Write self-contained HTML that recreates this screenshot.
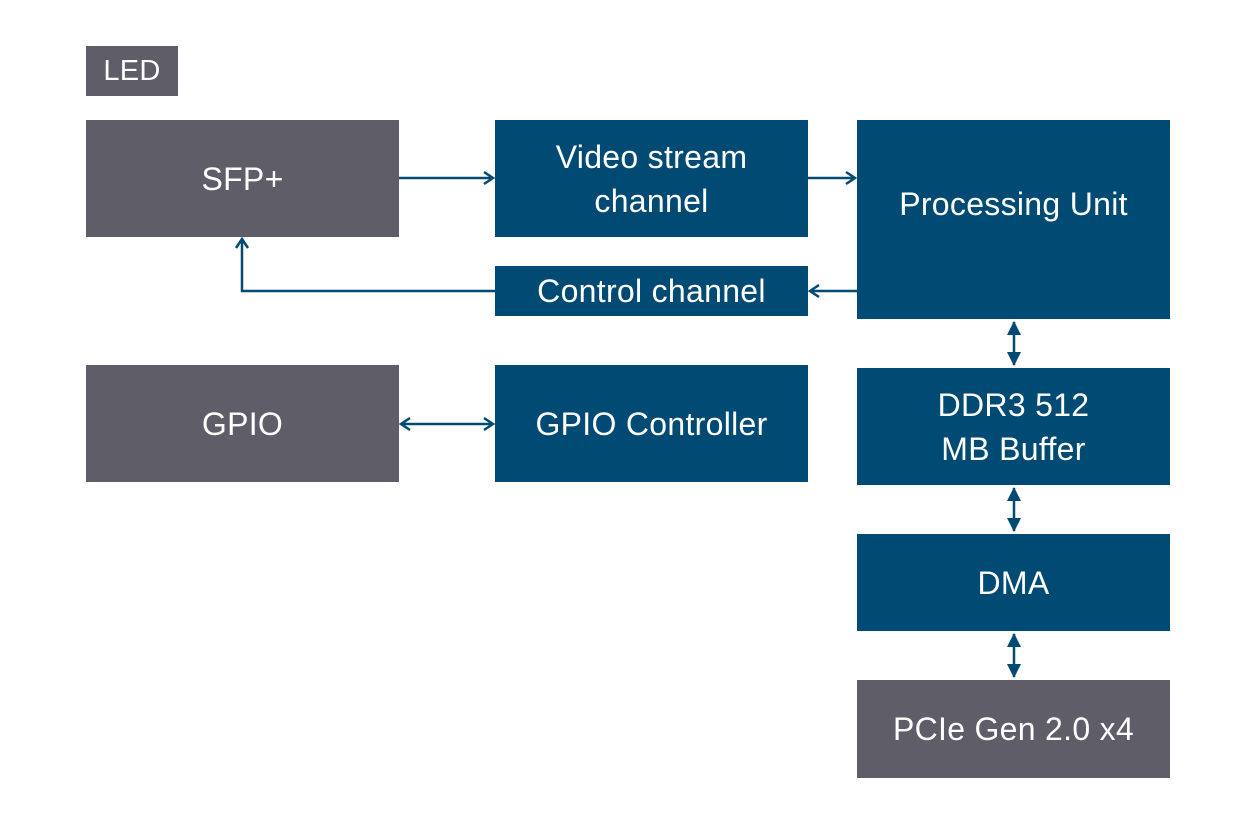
<!DOCTYPE html>
<html><head><meta charset="utf-8"><style>
body{margin:0;width:1250px;height:835px;background:#fff;position:relative;overflow:hidden;font-family:"Liberation Sans",sans-serif}
.b{position:absolute;display:flex;align-items:center;justify-content:center;text-align:center;color:#fff;font-size:32px;line-height:44px;letter-spacing:0.3px}
.bl{background:#004a74}.g{background:#5e5d68}
svg{position:absolute;left:0;top:0}
</style></head><body>
<div class="b g" style="left:86px;top:46px;width:92px;height:50px;font-size:29px">LED</div>
<div class="b g" style="left:86px;top:120px;width:313px;height:117px">SFP+</div>
<div class="b bl" style="left:495px;top:120px;width:313px;height:117px">Video stream<br>channel</div>
<div class="b bl" style="left:857px;top:120px;width:313px;height:199px;padding-bottom:32px;box-sizing:border-box">Processing Unit</div>
<div class="b bl" style="left:495px;top:266px;width:313px;height:50px">Control channel</div>
<div class="b g" style="left:86px;top:365px;width:313px;height:117px">GPIO</div>
<div class="b bl" style="left:495px;top:365px;width:313px;height:117px">GPIO Controller</div>
<div class="b bl" style="left:857px;top:368px;width:313px;height:117px">DDR3 512<br>MB Buffer</div>
<div class="b bl" style="left:857px;top:534px;width:313px;height:97px">DMA</div>
<div class="b g" style="left:857px;top:680px;width:313px;height:98px">PCIe Gen 2.0 x4</div>
<svg width="1250" height="835" fill="none" stroke="#004a74" stroke-width="2.5">
<path d="M399 178H493M484 172l9 6-9 6"/>
<path d="M808 178H855M846 172l9 6-9 6"/>
<path d="M857 291H810M819 285l-9 6 9 6"/>
<path d="M495 291H242V239M236 248l6-9 6 9"/>
<path d="M401 424H493M410 418l-9 6 9 6M484 418l9 6-9 6"/>
<path d="M1014 322V365M1014 488V531M1014 634V677"/>
<g fill="#004a74" stroke="none">
<path d="M1014 321l-7 14h14zM1014 366l-7-14h14z"/>
<path d="M1014 487l-7 14h14zM1014 532l-7-14h14z"/>
<path d="M1014 633l-7 14h14zM1014 678l-7-14h14z"/>
</g>
</svg>
</body></html>
